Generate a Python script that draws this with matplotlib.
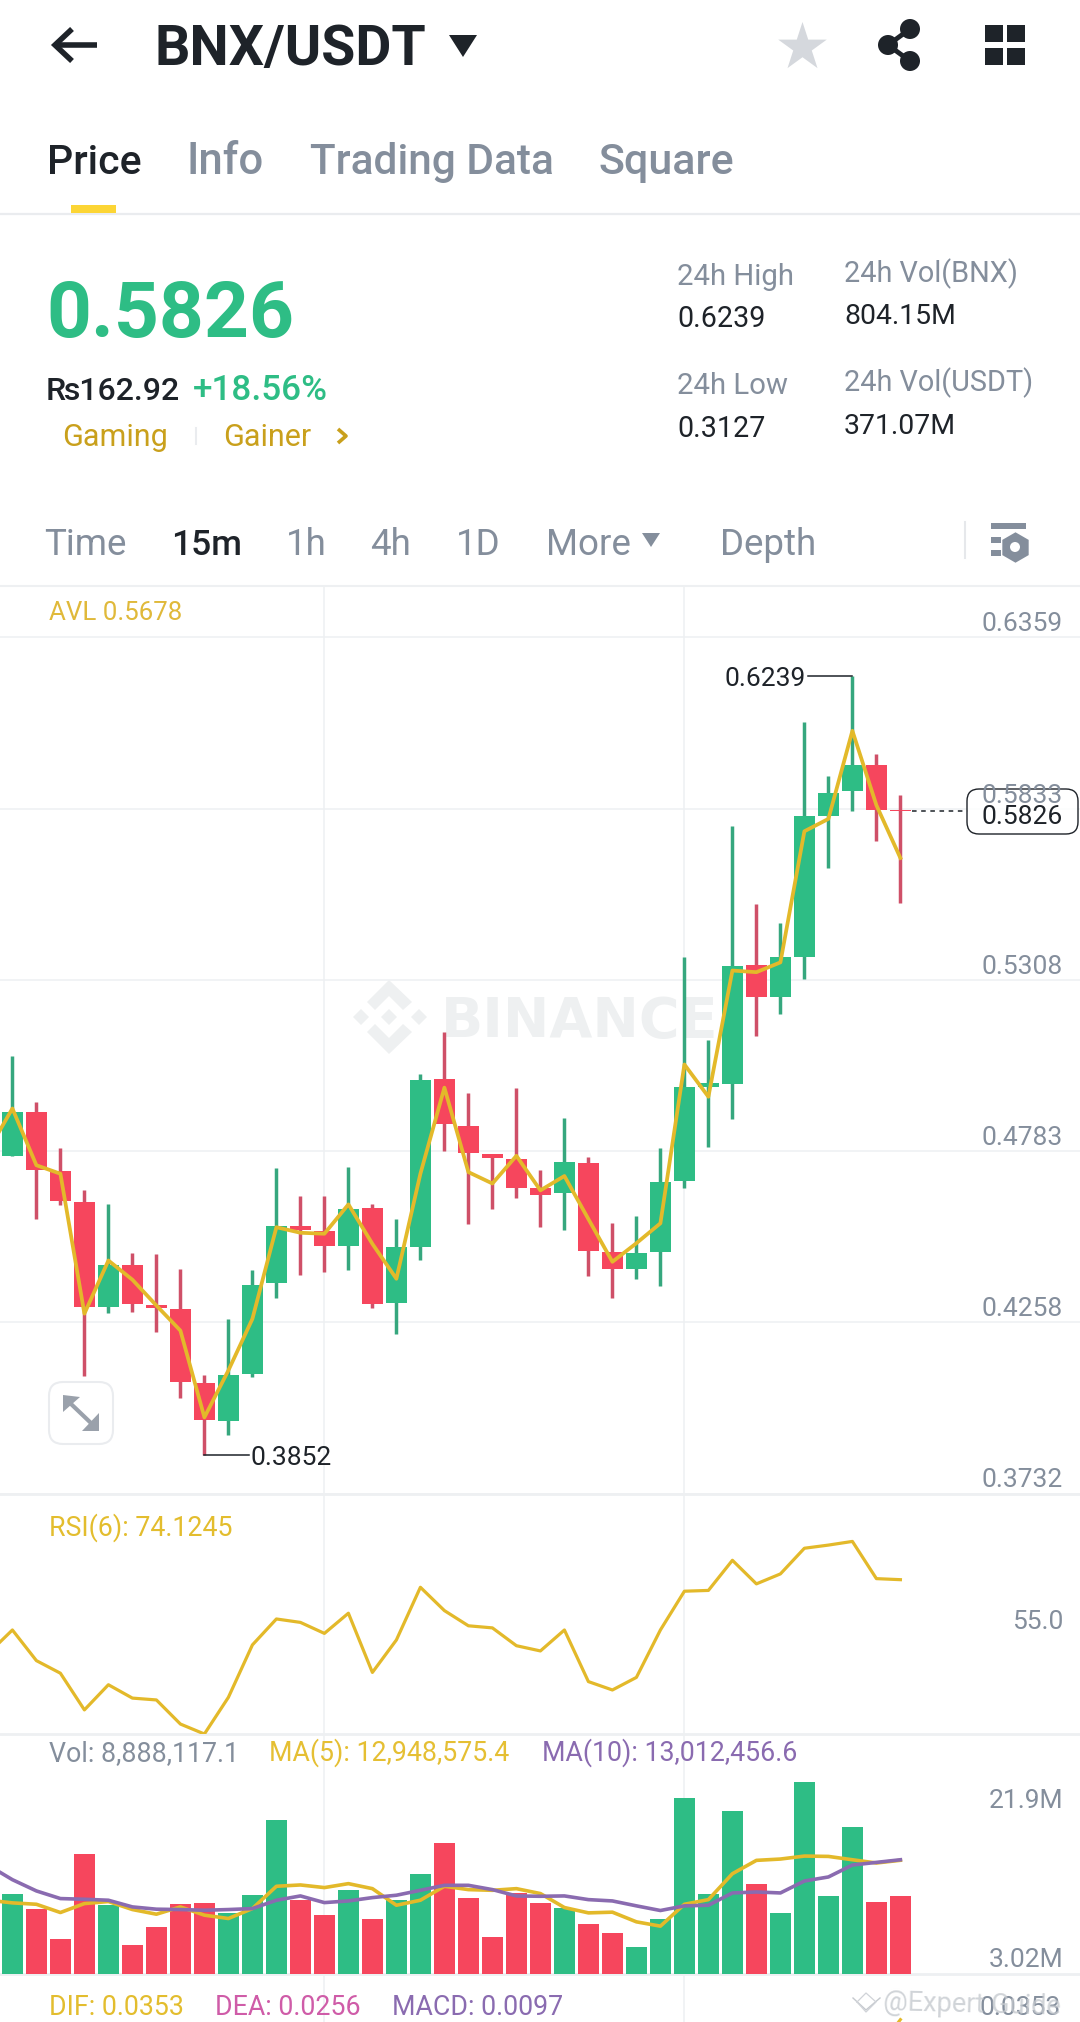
import matplotlib
matplotlib.use('Agg')
import matplotlib.pyplot as plt
from matplotlib.patches import Polygon, Circle, Rectangle, FancyBboxPatch

plt.rcParams['font.family'] = ['Roboto', 'DejaVu Sans']

W, H = 1080, 2022

opens = [.4767, .4903, .4723, .4626, .4304, .4434, .4310, .4299, .4073, .3955,
         .4099, .4378, .4553, .4538, .4493, .4608, .4317, .4488, .5004, .4861,
         .4773, .4760, .4669, .4655, .4748, .4475, .4423, .4475, .4692, .4981,
         .4989, .5355, .5255, .5378, .5810, .5887, .5968, .5829]
highs = [.5075, .4934, .4793, .4663, .4620, .4472, .4469, .4421, .4098, .4269,
         .4420, .4731, .4645, .4645, .4736, .4620, .4576, .5019, .5148, .4960,
         .4775, .4978, .4725, .4886, .4766, .4562, .4584, .4792, .5378, .5124,
         .5779, .5540, .5483, .6100, .5933, .6239, .6000, .5874]
lows = [.4767, .4576, .4619, .4095, .4288, .4290, .4230, .4025, .3852, .3913,
        .4090, .4333, .4405, .4412, .4420, .4303, .4223, .4448, .4783, .4561,
        .4605, .4641, .4550, .4540, .4400, .4333, .4392, .4371, .4669, .4796,
        .4881, .5135, .5204, .5311, .5651, .5827, .5734, .5545]
closes = [.4903, .4724, .4629, .4305, .4433, .4314, .4302, .4075, .3958, .4098,
          .4372, .4553, .4540, .4493, .4607, .4314, .4488, .5001, .4866, .4777,
          .4763, .4669, .4648, .4751, .4478, .4423, .4471, .4689, .4981, .4992,
          .5351, .5255, .5377, .5810, .5882, .5966, .5829, .5826]
# these three start one candle left of the screen, so the line runs in from the edge
avl = [.4786, .4914, .4740, .4714, .4285, .4448, .4389, .4310, .4233, .3967, .4111,
       .4269, .4550, .4533, .4530, .4620, .4499, .4392, .4714, .4978, .4719,
       .4684, .4769, .4663, .4707, .4575, .4444, .4501, .4562, .5049, .4950,
       .5337, .5332, .5362, .5764, .5802, .6072, .5844, .5682]
rsi = [46.1, 55.0, 43.3, 38.5, 24.5, 34.1, 29.0, 28.3, 19.1, 15.3, 29.3,
       49.3, 59.2, 57.9, 53.7, 61.4, 38.8, 51.2, 71.3, 62.4, 56.6,
       55.8, 49.0, 47.0, 55.0, 35.3, 32.1, 36.9, 55.0, 69.8, 70.1,
       81.6, 72.6, 76.4, 86.2, 87.4, 88.8, 74.6, 74.2]
volumes = [9.16, 7.41, 3.93, 13.62, 7.87, 3.25, 5.33, 7.94, 8.13, 6.89,
           9.00, 17.59, 8.40, 6.70, 9.53, 6.24, 8.40, 11.35, 14.94, 8.66,
           4.20, 9.27, 8.13, 7.57, 5.64, 4.69, 3.03, 6.28, 20.09, 9.16,
           18.58, 10.29, 6.92, 21.90, 8.89, 16.72, 8.17, 8.89]
vol_ma5 = [8.40, 8.10, 7.94, 7.00, 8.02, 8.25, 7.34, 6.81, 7.64, 6.70, 6.32,
           7.45, 9.99, 10.14, 9.84, 10.29, 9.72, 7.83, 8.40, 9.99, 9.61,
           9.53, 9.72, 9.16, 7.57, 6.96, 7.04, 5.94, 5.45, 7.94, 8.47,
           11.42, 12.94, 13.09, 13.43, 13.39, 13.01, 12.64, 12.95]
vol_ma10 = [12.37, 10.74, 9.46, 8.59, 8.51, 8.40, 7.64, 7.38, 7.34, 7.26, 7.34,
            7.45, 8.40, 8.89, 8.13, 8.32, 8.70, 8.97, 9.53, 10.10, 10.10,
            9.61, 8.89, 8.85, 8.89, 8.47, 8.32, 7.76, 7.23, 7.76, 7.83,
            9.23, 9.34, 9.23, 10.59, 11.05, 12.41, 12.71, 13.01]
dif_tail = [.0340, .0353]

price_ticks = [.6359, .5833, .5308, .4783, .4258, .3732]
price_labels = ['0.6359', '0.5833', '0.5308', '0.4783', '0.4258', '0.3732']
time_grid = [13, 28]

GREEN = '#2ebd85'
RED = '#f6465d'
GREEN_WICK = '#36a77e'
RED_WICK = '#cf5068'
DARK = '#1e2329'
GRAY = '#848e9c'
GRID = '#eef0f2'
YELLOW = '#e3b92a'
PURPLE = '#8a6bb0'
GOLD = '#c9a01c'

idx = list(range(len(closes)))
idx_line = list(range(-1, len(closes)))
# candle i sits at pixel 12.4 + 24 * i
xlim = (-12.4 / 24, (W - 12.4) / 24)

fig = plt.figure(figsize=(W / 100, H / 100), dpi=100, facecolor='white')


def pixel_axes(zorder):
    ax = fig.add_axes([0, 0, 1, 1], zorder=zorder)
    ax.set_xlim(0, W)
    ax.set_ylim(H, 0)
    ax.axis('off')
    ax.patch.set_alpha(0)
    return ax


def pane(top, bottom, ylim):
    ax = fig.add_axes([0, 1 - bottom / H, 1, (bottom - top) / H], zorder=2)
    ax.set_xlim(*xlim)
    ax.set_ylim(*ylim)
    ax.axis('off')
    ax.patch.set_alpha(0)
    for t in time_grid:
        ax.axvline(t, color=GRID, lw=1.1, zorder=0)
    return ax


back = pixel_axes(0)
front = pixel_axes(5)


def label(x, y, s, size, color, weight='normal', ha='left', ax=front, **kw):
    ax.text(x, y, s, fontsize=size, color=color, fontweight=weight, ha=ha, va='baseline', **kw)


# header
front.plot([55, 97], [45, 45], color=DARK, lw=4, solid_capstyle='butt')
front.plot([72, 55, 72], [29, 45, 61], color=DARK, lw=4, solid_joinstyle='miter', solid_capstyle='butt')
label(155, 65, 'BNX/USDT', 40, DARK, 'bold')
front.add_patch(Polygon([(449, 35), (477, 35), (463, 57)], color=DARK, lw=0))
front.scatter([802], [47], marker='*', s=1350, color='#d5d8dd', linewidths=0)
share = [(910, 29), (888, 45), (910, 61)]
front.plot([p[0] for p in share], [p[1] for p in share], color=DARK, lw=3.5)
for p in share:
    front.add_patch(Circle(p, 10, color=DARK, lw=0))
for x0, y0 in [(985, 25), (1007, 25), (985, 48), (1007, 48)]:
    front.add_patch(Rectangle((x0, y0), 18, 17, color=DARK, lw=0))

# tabs
label(47, 174, 'Price', 29.5, DARK, 'medium')
label(187, 174, 'Info', 31.5, GRAY, 'medium')
label(310, 174, 'Trading Data', 30.5, GRAY, 'medium')
label(598, 174, 'Square', 31, GRAY, 'medium')
front.add_patch(Rectangle((71, 205), 45, 8, color='#fcd535', lw=0))
back.plot([0, W], [214, 214], color='#eaecef', lw=1.6)

# price block
label(46, 337, '0.5826', 56.5, GREEN, 'bold')
label(46, 400, '\u20a8162.92', 23, DARK, 'medium')
label(193, 400, '+18.56%', 25.3, GREEN, 'medium')
label(62, 446, 'Gaming', 22, GOLD)
front.plot([196, 196], [428, 444], color='#eaecef', lw=1.5)
label(223, 446, 'Gainer', 22, GOLD)
front.plot([338, 346, 338], [429, 436, 443], color=GOLD, lw=2.6, solid_capstyle='butt')

label(677, 285, '24h High', 21.2, GRAY)
label(677, 327, '0.6239', 20.6, DARK)
label(844, 282, '24h Vol(BNX)', 20.8, GRAY)
label(844, 323.5, '804.15M', 20.4, DARK)
label(677, 394, '24h Low', 21.2, GRAY)
label(677, 437, '0.3127', 20.6, DARK)
label(844, 391, '24h Vol(USDT)', 20.8, GRAY)
label(844, 433.5, '371.07M', 20.4, DARK)

# interval row
label(44, 555, 'Time', 26.5, GRAY)
label(171, 555, '15m', 25.5, DARK, 'medium')
label(286, 555, '1h', 26.5, GRAY)
label(370, 555, '4h', 26.5, GRAY)
label(456, 555, '1D', 26.5, GRAY)
label(546, 555, 'More', 26.5, GRAY)
front.add_patch(Polygon([(642, 533), (660, 533), (651, 547)], color=GRAY, lw=0))
label(720, 555, 'Depth', 26.5, GRAY)
front.plot([965, 965], [522, 558], color='#e6e8eb', lw=1.5)
front.add_patch(Rectangle((991, 523), 35, 6, color=GRAY, lw=0))
front.add_patch(Rectangle((991, 537), 10, 5.5, color=GRAY, lw=0))
front.add_patch(Rectangle((991, 550), 10, 5.5, color=GRAY, lw=0))
front.scatter([1015], [547], marker='h', s=480, color=GRAY, linewidths=0)
front.add_patch(Circle((1015, 547), 5, color='white', lw=0))
back.plot([0, W], [586, 586], color=GRID, lw=1.5)

# watermark
wm = '#eef0f1'
top_chevron = [(389, 980), (412, 1002), (403, 1010), (389, 996), (375, 1010), (367, 1002)]
back.add_patch(Polygon(top_chevron, color=wm, lw=0))
back.add_patch(Polygon([(p[0], 2034 - p[1]) for p in top_chevron], color=wm, lw=0))
for cx in (361, 389, 419):
    back.add_patch(Polygon([(cx - 8, 1017), (cx, 1009), (cx + 8, 1017), (cx, 1025)], color=wm, lw=0))
back.text(441, 1037, 'BINANCE', fontsize=40, color=wm, fontweight='bold', family='DejaVu Sans', va='baseline')

# candles
ax_price = pane(587, 1494, (.3732, .6513))
for tick in price_ticks:
    ax_price.axhline(tick, color=GRID, lw=1.1, zorder=0)
up = [c >= o for o, c in zip(opens, closes)]
ax_price.vlines(idx, lows, highs, colors=[GREEN_WICK if u else RED_WICK for u in up], lw=2.5, zorder=2)
ax_price.bar(idx, [abs(c - o) for o, c in zip(opens, closes)], bottom=[min(o, c) for o, c in zip(opens, closes)],
             width=0.86, color=[GREEN if u else RED for u in up], zorder=3)
ax_price.plot(idx_line, avl, color=YELLOW, lw=2.7, zorder=4)

ax_price.plot([35 - 1.85, 35], [max(highs)] * 2, color=DARK, lw=1.1, zorder=4)
ax_price.text(35 - 1.96, max(highs) - .0009, '0.6239', fontsize=19, color=DARK, ha='right', va='center')
ax_price.plot([8, 8 + 1.85], [min(lows)] * 2, color=DARK, lw=1.1, zorder=4)
ax_price.text(8 + 1.9, min(lows) - .0009, '0.3852', fontsize=19, color=DARK, ha='left', va='center')
ax_price.plot([37.5, 39.8], [closes[-1]] * 2, color=DARK, lw=1.1, ls=(0, (3, 3)), zorder=4)

for tick, text in zip(price_ticks, price_labels):
    px = 1322 - (tick - .4258) * 3259.5
    label(1063, px - 6, text, 19, GRAY, ha='right')

label(49, 620, 'AVL 0.5678', 18.6, '#e0b93a')

# last price box and expand button
front.add_patch(FancyBboxPatch((973, 795), 99, 33, boxstyle='round,pad=6,rounding_size=12', fc=(1, 1, 1, .85),
                               ec=DARK, lw=1.0))
label(1063, 824, '0.5826', 19, DARK, ha='right')
front.add_patch(FancyBboxPatch((55, 1388), 52, 50, boxstyle='round,pad=6,rounding_size=14', fc='white', ec='#eaecef', lw=1.5))
arrow = '#9aa1ab'
front.add_patch(Polygon([(63, 1395), (80, 1397), (63, 1412)], color=arrow, lw=0))
front.add_patch(Polygon([(99, 1431), (82, 1431), (99, 1413)], color=arrow, lw=0))
front.plot([70, 92], [1403, 1424], color=arrow, lw=3)

# rsi
ax_rsi = pane(1494, 1734, (15.3, 106.9))
ax_rsi.plot(idx_line, rsi, color=YELLOW, lw=2.3, zorder=3)
back.plot([0, W], [1494, 1494], color=GRID, lw=2)
back.plot([0, W], [1734, 1734], color=GRID, lw=2)
label(49, 1536, 'RSI(6): 74.1245', 19.3, '#e3bd2e')
label(1063, 1629, '55.0', 19, GRAY, ha='right')

# volume
ax_vol = pane(1734, 1974, (0, 27.33))
ax_vol.bar(idx, volumes, width=0.875, color=[GREEN if u else RED for u in up], zorder=2)
ax_vol.plot(idx_line, vol_ma5, color=YELLOW, lw=2.6, zorder=3)
ax_vol.plot(idx_line, vol_ma10, color=PURPLE, lw=2.6, zorder=4)
back.plot([0, W], [1974, 1974], color=GRID, lw=2)
label(49, 1761, 'Vol: 8,888,117.1', 19.3, GRAY)
label(269, 1761, 'MA(5): 12,948,575.4', 19.3, '#e5bf33')
label(542, 1761, 'MA(10): 13,012,456.6', 19.3, PURPLE)
label(1063, 1808, '21.9M', 19, GRAY, ha='right')
label(1063, 1967, '3.02M', 19, GRAY, ha='right')

# macd strip, only its legend and the top of the DIF line are on screen
ax_macd = pane(1974, H, (.0352, .0372))
ax_macd.plot([36, 37], dif_tail, color=YELLOW, lw=2.2)
label(49, 2015, 'DIF: 0.0353', 19.3, '#e3bd2e')
label(215, 2015, 'DEA: 0.0256', 19.3, '#cf5ca8')
label(392, 2015, 'MACD: 0.0097', 19.3, PURPLE)
label(1061, 2015, '0.0353', 19, GRAY, ha='right')

# repost stamp over the corner
label(883, 2010, '@Expert Guide', 19.5, '#c5c9ce', rotation=-1.5, rotation_mode='anchor', alpha=.8)
front.plot([853, 866, 880], [1998, 2010, 1998], color='#c5c9ce', lw=1)
front.plot([857, 866, 876, 866, 857], [2002, 1993, 2002, 2012, 2002], color='#d0d3d8', lw=.9)

fig.savefig('out.png', dpi=100)
